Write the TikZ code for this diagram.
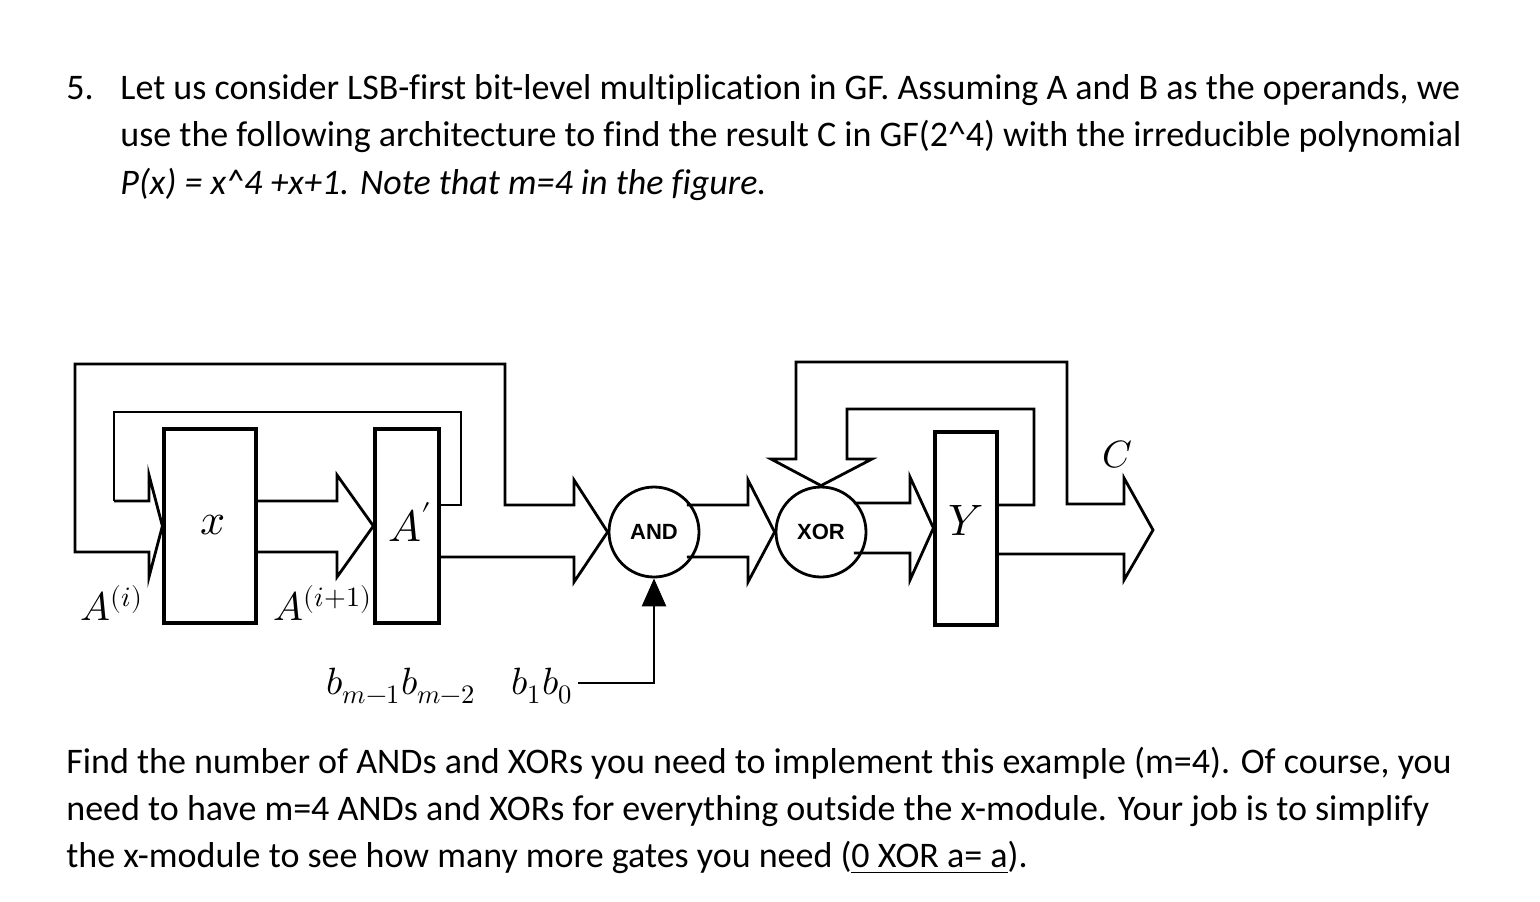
\documentclass[tikz,border=0pt]{standalone}
\usepackage{fontspec}
\setmainfont{Carlito}[Ligatures=NoCommon]
\newfontfamily\gatefont{Liberation Sans}
\usepackage{unicode-math}
\setmathfont{Latin Modern Math}
\usetikzlibrary{arrows.meta}
\begin{document}
\begin{tikzpicture}[x=0.5pt,y=-0.5pt,
  wire/.style={line width=1.4pt,line join=miter},
  box/.style={draw,line width=1.6pt,minimum width=#1,inner sep=0pt,minimum height=97pt},
  gate/.style={draw,circle,line width=1.4pt,minimum size=45pt,inner sep=0pt,font=\gatefont\bfseries\fontsize{11}{13}\selectfont},
  txt/.style={anchor=base west,inner sep=0pt,font=\fontsize{18}{21}\selectfont},
  lab/.style={inner sep=0pt,font=\fontsize{22}{26}\selectfont}]
\useasboundingbox (0,0) rectangle (1540,901);
\fill[white] (0,0) rectangle (1540,901);
% header
\node[txt] (n5) at (66,99) {5.};
\node[txt] (t1) at (120,99) {Let us consider LSB-first bit-level multiplication in GF. Assuming A and B as the operands, we};
\node[txt] (t2) at (120,146) {use the following architecture to find the result C in GF(2\^{}4) with the irreducible polynomial};
\node[txt] (t3) at (120,194) {\itshape P(x) = x\^{}4 +x+1. Note that m=4 in the figure.};
% footer
\node[txt] (f1) at (66,773) {Find the number of ANDs and XORs you need to implement this example (m=4). Of course, you};
\node[txt] (f2) at (66,820) {need to have m=4 ANDs and XORs for everything outside the x-module. Your job is to simplify};
\node[txt] (f3) at (66,867) {the x-module to see how many more gates you need (\underline{0 XOR a= a}).};
% boxes
\node[box=46pt] (X) at (210,526) {};
\node[box=32pt] (Ap) at (407,526) {};
\node[box=31pt,minimum height=96.5pt] (Y) at (966,528.5) {};
\node[gate] (AND) at (654,532) {AND};
\node[gate] (XOR) at (821,532) {XOR};
% labels
\node[lab] (lx) at (213,525) {$x$};
\node[lab] (lA) at (410,522) {$A'$};
\node[lab] (lY) at (966,520) {$Y$};
\node[lab,font=\fontsize{19}{22}\selectfont] (lC) at (1117,455) {$C$};
\node[lab,font=\fontsize{20}{24}\selectfont] (lAi) at (112,603) {$A^{(i)}$};
\node[lab,font=\fontsize{20}{24}\selectfont] (lAi1) at (323,603) {$A^{(i+1)}$};
\node[lab,font=\fontsize{19}{23}\selectfont] (lb1) at (401,686) {$b_{m-1}b_{m-2}$};
\node[lab,font=\fontsize{19}{23}\selectfont] (lb2) at (542,686) {$b_1b_0$};
% arrow into x (with outer loop)
\draw[wire] (114,501) -- (149,501) -- (149,475) -- (X.west) -- (149,577) -- (149,552) -- (75,552) -- (75,364) -- (505,364) -- (505,505) -- (574,505) -- (574,480) -- (AND.west) -- (574,582) -- (574,557) -- (Ap.east |- 0,557);
% inner loop
\draw[wire] (Ap.east |- 0,505) -- (461,505) -- (461,412) -- (114,412) -- (114,501);
% x -> A'
\draw[wire] (X.east |- 0,501) -- (337,501) -- (337,475) -- (Ap.west) -- (337,577) -- (337,552) -- (X.east |- 0,552);
% AND -> XOR
\draw[wire] (AND.north east |- 0,505) -- (748,505) -- (748,480) -- (XOR.west) -- (748,582) -- (748,557) -- (AND.south east |- 0,557);
% XOR -> Y
\draw[wire] (XOR.north east |- 0,503) -- (910,503) -- (910,477) -- (Y.west |- 0,528) -- (910,580) -- (910,553) -- (XOR.south east |- 0,553);
% feedback into XOR
\draw[wire] (Y.east |- 0,505) -- (1034,505) -- (1034,409) -- (847,409) -- (847,459) -- (872,459) -- (XOR.north) -- (771,459) -- (796,459) -- (796,362) -- (1067,362) -- (1067,504) -- (1124,504) -- (1124,478) -- (1153,530) -- (1124,580) -- (1124,554) -- (Y.east |- 0,554);
% b input
\coordinate (bin) at (578,683);
\draw[wire,-{Triangle[length=14pt,width=12pt]}] (bin) -- (654,683) -- (AND.south);
\end{tikzpicture}
\end{document}
